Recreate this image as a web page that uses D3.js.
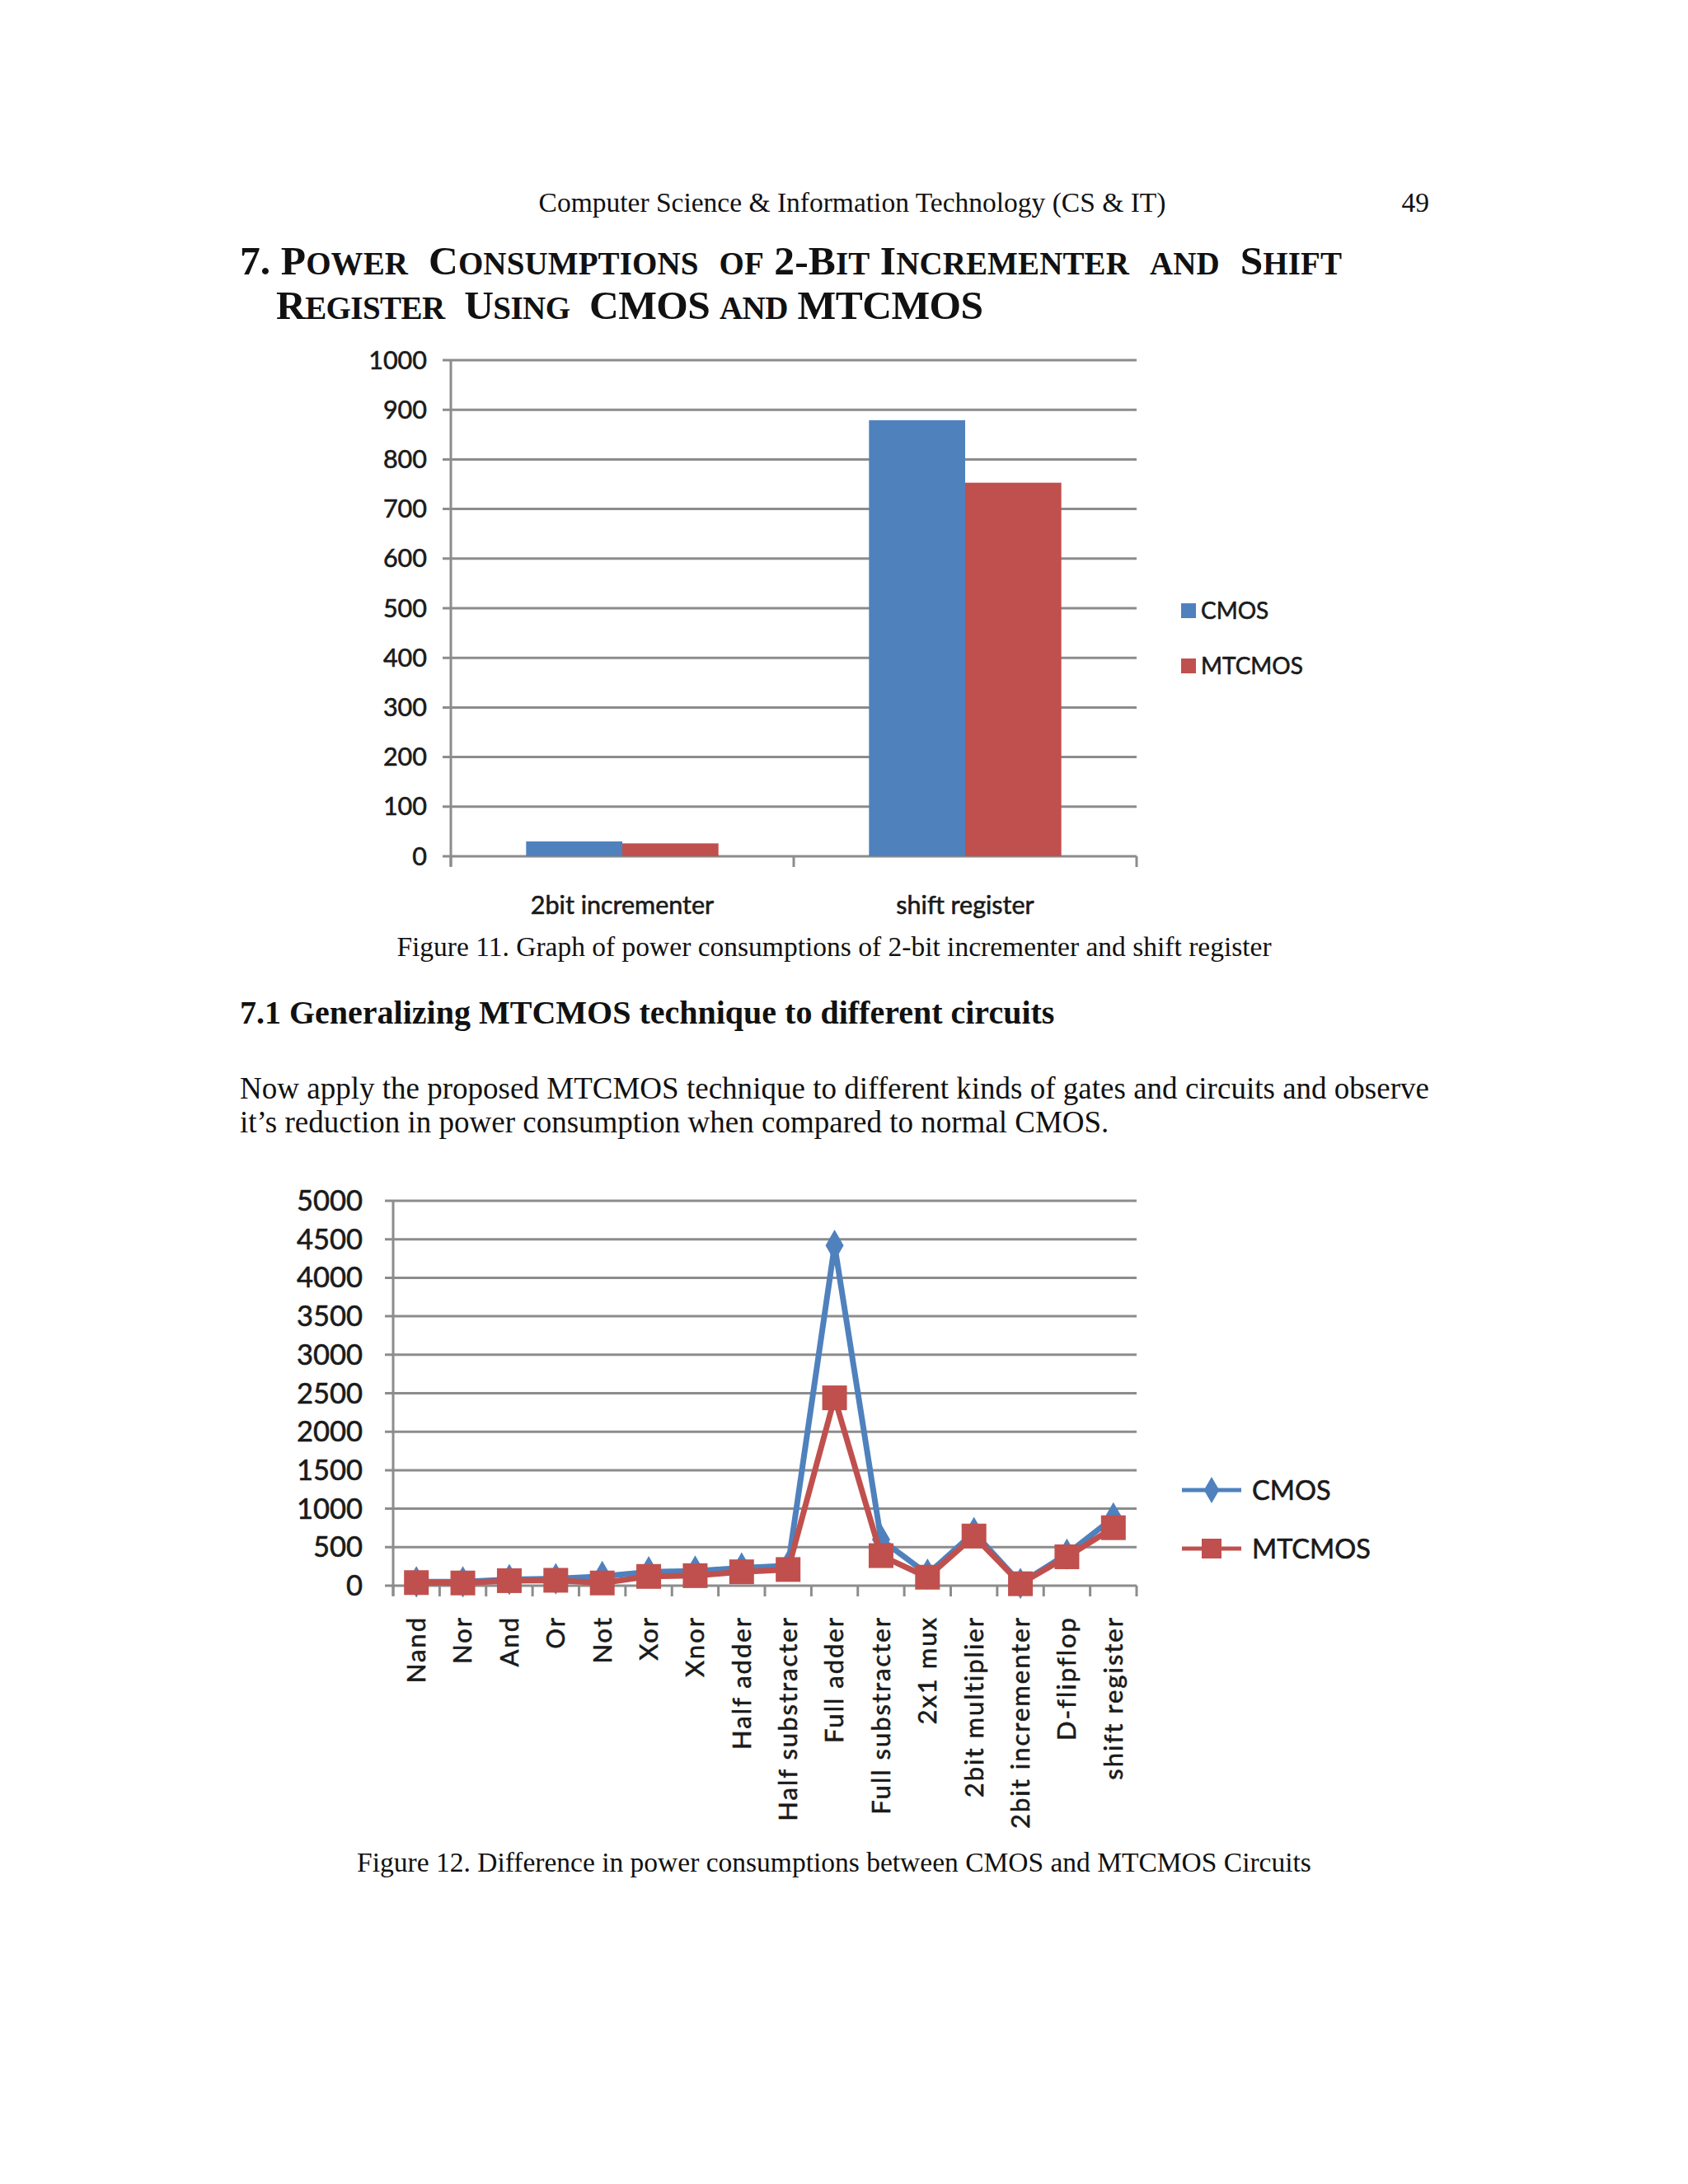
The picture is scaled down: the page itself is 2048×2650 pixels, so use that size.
<!DOCTYPE html>
<html><head><meta charset="utf-8">
<script src="https://cdn.jsdelivr.net/npm/d3@7"></script>
<style>
html,body{margin:0;padding:0;background:#fff;}
svg{display:block;}
.serif{font-family:"Liberation Serif","Times New Roman",serif;fill:#111;}
.sans{font-family:Lato,"Open Sans",sans-serif;fill:#1a1a1a;stroke:#1a1a1a;stroke-width:0.6;}
</style></head>
<body>
<svg id="page" width="2048" height="2650"></svg>
<script>
// ---------- data ----------
const barCategories = ["2bit incrementer", "shift register"];
const barSeries = ["CMOS", "MTCMOS"];
const barCMOS = [30, 879];
const barMTCMOS = [26, 753];
const barYTicks = [0,100,200,300,400,500,600,700,800,900,1000];

const lineCategories = ["Nand","Nor","And","Or","Not","Xor","Xnor","Half adder","Half substracter","Full adder","Full substracter","2x1 mux","2bit multiplier","2bit incrementer","D-flipflop","shift register"];
const lineCMOS =   [50, 50, 80, 90, 120, 180, 190, 230, 260, 4420, 600, 150, 690, 30, 410, 880];
const lineMTCMOS = [40, 35, 65, 70, 35, 120, 130, 180, 210, 2440, 390, 110, 645, 25, 375, 753];
const lineYTicks = [0,500,1000,1500,2000,2500,3000,3500,4000,4500,5000];

const colors = {CMOS:"#4F81BD", MTCMOS:"#C0504D"};
const gridColor = "#8c8c8c";

const svg = d3.select("#page");

// ---------- page text ----------
svg.append("text").attr("class","serif").attr("x",1034).attr("y",257)
  .attr("text-anchor","middle").attr("font-size",33.5)
  .text("Computer Science & Information Technology (CS & IT)");
svg.append("text").attr("class","serif").attr("x",1734).attr("y",257)
  .attr("text-anchor","end").attr("font-size",33.5).text("49");

// words: [bigPart, smallPart, spacesBefore]
function smallCapsLine(x, y, words, big, small, len){
  const t = svg.append("text").attr("class","serif").attr("x",x).attr("y",y)
    .attr("font-weight","bold").attr("textLength",len).attr("lengthAdjust","spacing");
  words.forEach((w,i)=>{
    if(i>0) t.append("tspan").attr("font-size",big).text(w[2]===1 ? "\u00a0" : "\u00a0\u00a0");
    if(w[0]) t.append("tspan").attr("font-size",big).text(w[0]);
    if(w[1]) t.append("tspan").attr("font-size",small).text(w[1]);
  });
  return t;
}
smallCapsLine(291, 333, [["7. P","OWER",0],["C","ONSUMPTIONS",2],["","OF",2],["2-B","IT",1],["I","NCREMENTER",1],["","AND",2],["S","HIFT",2]], 49.5, 39, 1337);
smallCapsLine(335, 387, [["R","EGISTER",0],["U","SING",2],["CMOS","",2],["","AND",1],["MTCMOS","",1]], 49.5, 39, 858);

svg.append("text").attr("class","serif").attr("x",1012).attr("y",1160)
  .attr("text-anchor","middle").attr("font-size",33.5)
  .text("Figure 11. Graph of power consumptions of 2-bit incrementer and shift register");

svg.append("text").attr("class","serif").attr("x",291).attr("y",1242)
  .attr("font-size",40).attr("font-weight","bold")
  .text("7.1 Generalizing MTCMOS technique to different circuits");

svg.append("text").attr("class","serif").attr("x",291).attr("y",1333)
  .attr("font-size",37).attr("textLength",1443).attr("lengthAdjust","spacing")
  .text("Now apply the proposed MTCMOS technique to different kinds of gates and circuits and observe");
svg.append("text").attr("class","serif").attr("x",291).attr("y",1374)
  .attr("font-size",37)
  .text("it\u2019s reduction in power consumption when compared to normal CMOS.");

svg.append("text").attr("class","serif").attr("x",1012).attr("y",2271)
  .attr("text-anchor","middle").attr("font-size",33.5)
  .text("Figure 12. Difference in power consumptions between CMOS and MTCMOS Circuits");

// ---------- bar chart ----------
(function(){
  const L=547, R=1379, T=437, B=1039;
  const x = d3.scaleBand().domain(barCategories).range([L,R]);
  const y = d3.scaleLinear().domain([0,1000]).range([B,T]);
  const g = svg.append("g");
  g.selectAll("line.grid").data(barYTicks).join("line")
    .attr("x1",L-10).attr("x2",R).attr("y1",d=>y(d)).attr("y2",d=>y(d))
    .attr("stroke",gridColor).attr("stroke-width",3);
  g.append("line").attr("x1",L).attr("x2",L).attr("y1",T).attr("y2",B+12)
    .attr("stroke",gridColor).attr("stroke-width",3);
  g.selectAll("text.yl").data(barYTicks).join("text").attr("class","sans")
    .attr("x",L-29).attr("y",d=>y(d)).attr("dy","0.35em").attr("text-anchor","end")
    .attr("font-size",30.5).text(d=>d);
  const bounds = [L].concat(barCategories.map(c=>x(c)+x.bandwidth()));
  g.selectAll("line.xt").data(bounds).join("line")
    .attr("x1",d=>d).attr("x2",d=>d).attr("y1",B).attr("y2",B+13)
    .attr("stroke",gridColor).attr("stroke-width",3);
  const groupW = x.bandwidth()*0.561;
  const inner = d3.scaleBand().domain(barSeries).range([0,groupW]);
  const rows = barCategories.map((c,i)=>({c, CMOS:barCMOS[i], MTCMOS:barMTCMOS[i]}));
  rows.forEach(r=>{
    const x0 = x(r.c) + (x.bandwidth()-groupW)/2;
    g.selectAll(null).data(barSeries).join("rect")
      .attr("x",s=>x0+inner(s)).attr("width",inner.bandwidth())
      .attr("y",s=>y(r[s])).attr("height",s=>y(0)-y(r[s]))
      .attr("fill",s=>colors[s]);
  });
  g.selectAll("text.xl").data(barCategories).join("text").attr("class","sans")
    .attr("x",d=>x(d)+x.bandwidth()/2).attr("y",1109).attr("text-anchor","middle")
    .attr("font-size",30.5).text(d=>d);
  const lg = g.append("g");
  barSeries.forEach((s,i)=>{
    const cy = 741 + i*67;
    lg.append("rect").attr("x",1433).attr("y",cy-9).attr("width",18).attr("height",18).attr("fill",colors[s]);
    lg.append("text").attr("class","sans").attr("x",1457).attr("y",cy).attr("dy","0.36em")
      .attr("font-size",28).text(s);
  });
})();

// ---------- line chart ----------
(function(){
  const L=477, R=1379, T=1457, B=1924;
  const x = d3.scalePoint().domain(lineCategories).range([L,R]).padding(0.5);
  const band = (R-L)/lineCategories.length;
  const y = d3.scaleLinear().domain([0,5000]).range([B,T]);
  const g = svg.append("g");
  g.selectAll("line.grid").data(lineYTicks).join("line")
    .attr("x1",L-10).attr("x2",R).attr("y1",d=>y(d)).attr("y2",d=>y(d))
    .attr("stroke",gridColor).attr("stroke-width",3);
  g.append("line").attr("x1",L).attr("x2",L).attr("y1",T).attr("y2",B+12)
    .attr("stroke",gridColor).attr("stroke-width",3);
  g.selectAll("text.yl").data(lineYTicks).join("text").attr("class","sans")
    .attr("x",L-37).attr("y",d=>y(d)).attr("dy","0.35em").attr("text-anchor","end")
    .attr("font-size",34.5).text(d=>d);
  const bounds = d3.range(lineCategories.length+1).map(i=>L+i*band);
  g.selectAll("line.xt").data(bounds).join("line")
    .attr("x1",d=>d).attr("x2",d=>d).attr("y1",B).attr("y2",B+13)
    .attr("stroke",gridColor).attr("stroke-width",3);
  g.selectAll("text.xl").data(lineCategories).join("text").attr("class","sans")
    .attr("transform",d=>`translate(${x(d)},1961) rotate(-90)`)
    .attr("text-anchor","end").attr("dy","0.35em")
    .attr("font-size",31).attr("letter-spacing",2).text(d=>d);
  const line = d3.line().x((d,i)=>x(lineCategories[i])).y(d=>y(d));
  g.append("path").datum(lineCMOS).attr("d",line).attr("fill","none")
    .attr("stroke",colors.CMOS).attr("stroke-width",7).attr("stroke-linejoin","round");
  const diamond = d3.symbol().type(d3.symbolDiamond).size(420);
  g.selectAll("path.dm").data(lineCMOS).join("path")
    .attr("d",diamond).attr("fill",colors.CMOS)
    .attr("transform",(d,i)=>`translate(${x(lineCategories[i])},${y(d)})`);
  g.append("path").datum(lineMTCMOS).attr("d",line).attr("fill","none")
    .attr("stroke",colors.MTCMOS).attr("stroke-width",7).attr("stroke-linejoin","round");
  g.selectAll("rect.sq").data(lineMTCMOS).join("rect")
    .attr("x",(d,i)=>x(lineCategories[i])-15).attr("y",d=>y(d)-15)
    .attr("width",30).attr("height",30).attr("fill",colors.MTCMOS);
  const lg = g.append("g");
  const ly = [1808, 1879];
  ["CMOS","MTCMOS"].forEach((s,i)=>{
    lg.append("line").attr("x1",1434).attr("x2",1506).attr("y1",ly[i]).attr("y2",ly[i])
      .attr("stroke",colors[s]).attr("stroke-width",5);
    if(s==="CMOS"){
      lg.append("path").attr("d",d3.symbol().type(d3.symbolDiamond).size(300))
        .attr("transform",`translate(1470,${ly[i]})`).attr("fill",colors[s]);
    } else {
      lg.append("rect").attr("x",1458).attr("y",ly[i]-12).attr("width",24).attr("height",24).attr("fill",colors[s]);
    }
    lg.append("text").attr("class","sans").attr("x",1519).attr("y",ly[i]).attr("dy","0.36em")
      .attr("font-size",32.5).text(s);
  });
})();
</script>
</body></html>
